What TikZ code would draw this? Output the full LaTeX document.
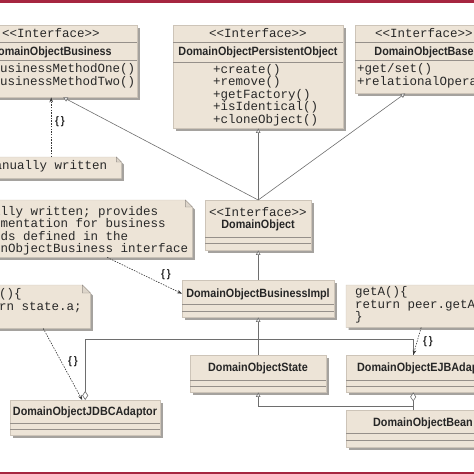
\documentclass[tikz,border=0pt]{standalone}
\usepackage{fontspec}
\setmonofont{Liberation Mono}
\newfontfamily\umlfont[FakeStretch=0.9]{Liberation Sans}
\usetikzlibrary{arrows.meta,shadows}

\definecolor{boxfill}{RGB}{237,228,215}
\definecolor{boxedge}{RGB}{205,196,184}
\definecolor{sepline}{RGB}{150,144,138}
\definecolor{shade}{RGB}{165,162,158}
\definecolor{wire}{RGB}{110,110,110}
\definecolor{depwire}{RGB}{55,55,55}
\definecolor{ink}{RGB}{40,40,40}
\definecolor{band}{RGB}{166,38,64}

\begin{document}
\begin{tikzpicture}[x=1pt, y=-1pt]
\tikzstyle{every node}=[inner sep=0pt]
\tikzstyle{cls}=[rectangle, anchor=north west, fill=boxfill, draw=boxedge, line width=0.4pt, drop shadow={shadow xshift=2.5pt, shadow yshift=-2.5pt, fill=shade, opacity=1}]
\tikzstyle{notebox}=[rectangle, anchor=north west]
\tikzstyle{notefill}=[fill=boxfill, draw=boxedge, line width=0.4pt, drop shadow={shadow xshift=2.5pt, shadow yshift=-2.5pt, fill=shade, opacity=1}]
\tikzstyle{fold}=[fill=boxfill!85!gray, draw=sepline, line width=0.4pt]
\tikzstyle{sep}=[draw=sepline, line width=0.7pt]
\tikzstyle{mono}=[font=\ttfamily\fontsize{12.5pt}{12.5pt}\selectfont, text=ink, align=left]
\tikzstyle{cname}=[font=\umlfont\bfseries\fontsize{12pt}{12pt}\selectfont, text=black!85, text height=8.8pt, text depth=0pt]
\tikzstyle{brace}=[font=\umlfont\bfseries\fontsize{11pt}{11pt}\selectfont, text=black!85]
\tikzstyle{gen}=[draw=wire, line width=0.6pt, -{Triangle[open, length=4.5pt, width=4.5pt, fill=white]}]
\tikzstyle{dep}=[draw=depwire, line width=0.6pt, dash pattern=on 1.5pt off 1.2pt, -{Stealth[length=5pt, width=3.6pt]}]
\tikzstyle{agg}=[draw=wire, line width=0.6pt, {Diamond[open, length=9pt, width=6pt, fill=white]}-]

\useasboundingbox (0,0) rectangle (474,474);
\clip (0,0) rectangle (474,474);

\fill[band] (0,0) rectangle (474,2.5);
\fill[band] (0,471.5) rectangle (474,474);

% interfaces
\node[cls, minimum width=172pt, minimum height=72pt] (bus) at (-35,25) {};
\draw[sep] (-35,42) -- (137,42);
\draw[sep] (-35,60) -- (137,60);
\node[mono] (bus-st) at (51,33) {<<Interface>>};
\node[cname] (bus-nm) at (51,51) {DomainObjectBusiness};
\node[mono, anchor=west] (bus-op) at (-15,76) {+businessMethodOne()\\+businessMethodTwo()};

\node[cls, minimum width=170pt, minimum height=103pt] (persist) at (173,25) {};
\draw[sep] (173,42) -- (343,42);
\draw[sep] (173,62) -- (343,62);
\node[mono] (persist-st) at (258,33) {<<Interface>>};
\node[cname] (persist-nm) at (258,51) {DomainObjectPersistentObject};
\node[mono, anchor=west] (persist-op) at (213,95) {+create()\\+remove()\\+getFactory()\\+isIdentical()\\+cloneObject()};

\node[cls, minimum width=138pt, minimum height=68pt] (base) at (355,25) {};
\draw[sep] (355,42) -- (493,42);
\draw[sep] (355,60) -- (493,60);
\node[mono] (base-st) at (424,33) {<<Interface>>};
\node[cname] (base-nm) at (424,51) {DomainObjectBase};
\node[mono, anchor=west] (base-op) at (357,76) {+get/set()\\+relationalOperators()};

\node[cls, minimum width=106pt, minimum height=50pt] (dobj) at (205,200) {};
\draw[sep] (205,237) -- (311,237);
\draw[sep] (205,243) -- (311,243);
\node[mono] (dobj-st) at (258,212) {<<Interface>>};
\node[cname] (dobj-nm) at (258,224) {DomainObject};

% classes
\node[cls, minimum width=152pt, minimum height=37pt] (impl) at (182,280) {};
\draw[sep] (182,304) -- (334,304);
\draw[sep] (182,311) -- (334,311);
\node[cname] (impl-nm) at (258,293) {DomainObjectBusinessImpl};

\node[cls, minimum width=136pt, minimum height=37pt] (state) at (190,355) {};
\draw[sep] (190,380) -- (326,380);
\draw[sep] (190,386) -- (326,386);
\node[cname] (state-nm) at (258,367) {DomainObjectState};

\node[cls, minimum width=156pt, minimum height=37pt] (ejb) at (346,355) {};
\draw[sep] (346,380) -- (502,380);
\draw[sep] (346,386) -- (502,386);
\node[cname] (ejb-nm) at (425,367) {DomainObjectEJBAdaptor};

\node[cls, minimum width=156pt, minimum height=37pt] (bean) at (346,410) {};
\draw[sep] (346,433) -- (502,433);
\draw[sep] (346,440) -- (502,440);
\node[cname] (bean-nm) at (423,422) {DomainObjectBean};

\node[cls, minimum width=150pt, minimum height=35pt] (jdbc) at (10,400) {};
\draw[sep] (10,423) -- (160,423);
\draw[sep] (10,429) -- (160,429);
\node[cname] (jdbc-nm) at (85,411) {DomainObjectJDBCAdaptor};

% notes
\node[notebox, minimum width=140pt, minimum height=21pt] (man) at (-19,157) {};
\filldraw[notefill] (man.north west) -- ([xshift=-5pt]man.north east) -- ([yshift=-5pt]man.north east) -- (man.south east) -- (man.south west) -- cycle;
\filldraw[fold] ([xshift=-5pt]man.north east) |- ([yshift=-5pt]man.north east) -- cycle;
\node[mono, anchor=west] (man-tx) at (-13,166) {Manually written};

\node[notebox, minimum width=234pt, minimum height=57pt] (implnote) at (-42,200) {};
\filldraw[notefill] (implnote.north west) -- ([xshift=-7pt]implnote.north east) -- ([yshift=-7pt]implnote.north east) -- (implnote.south east) -- (implnote.south west) -- cycle;
\filldraw[fold] ([xshift=-7pt]implnote.north east) |- ([yshift=-7pt]implnote.north east) -- cycle;
\node[mono, anchor=west] (implnote-tx) at (-37,231) {Manually written; provides\\implementation for business\\methods defined in the\\DomainObjectBusiness interface};

\node[notebox, minimum width=130pt, minimum height=43pt] (statenote) at (-40,285) {};
\filldraw[notefill] (statenote.north west) -- ([xshift=-8pt]statenote.north east) -- ([yshift=-8pt]statenote.north east) -- (statenote.south east) -- (statenote.south west) -- cycle;
\filldraw[fold] ([xshift=-8pt]statenote.north east) |- ([yshift=-8pt]statenote.north east) -- cycle;
\node[mono, anchor=west] (statenote-tx) at (-31,307) {getA()\{\\return state.a;\\\}};

\node[notebox, minimum width=160pt, minimum height=42pt] (peernote) at (346,285) {};
\filldraw[notefill] (peernote.north west) -- ([xshift=-7pt]peernote.north east) -- ([yshift=-7pt]peernote.north east) -- (peernote.south east) -- (peernote.south west) -- cycle;
\filldraw[fold] ([xshift=-7pt]peernote.north east) |- ([yshift=-7pt]peernote.north east) -- cycle;
\node[mono, anchor=west] (peernote-tx) at (355,305) {getA()\{\\return peer.getA();\\\}};

% connectors
\draw[gen] (dobj.north) -- ([xshift=12pt]bus.south);
\draw[gen] (dobj.north) -- (persist.south);
\draw[gen] (dobj.north) -- ([xshift=-19pt]base.south);
\draw[dep] (man.north) -- (bus.south);
\node[brace] (br-man) at (60,122) {\{\,\}};
\draw[dep] ([xshift=32pt]implnote.south) -- ([yshift=5pt]impl.west);
\node[brace] (br-impl) at (166,275) {\{\,\}};
\draw[gen] (impl.north) -- (dobj.south);
\draw[gen] (state.north) -- (impl.south);
\draw[dep] ([xshift=18pt]statenote.south) -- ([xshift=-3pt]jdbc.north);
\node[brace] (br-jdbc) at (73,362) {\{\,\}};
\draw[agg] (jdbc.north) -- ++(0,-61) -| ([xshift=-11pt]ejb.north);
\draw[dep] ([xshift=-5pt]peernote.south) -- ([xshift=-11pt]ejb.north);
\node[brace] (br-ejb) at (428,342) {\{\,\}};
\draw[agg] ([xshift=-11pt]ejb.south) -- ([xshift=-11pt]bean.north);
\draw[gen] ([xshift=-11pt]bean.north) -- ++(0,-4) -| (state.south);
\end{tikzpicture}
\end{document}
